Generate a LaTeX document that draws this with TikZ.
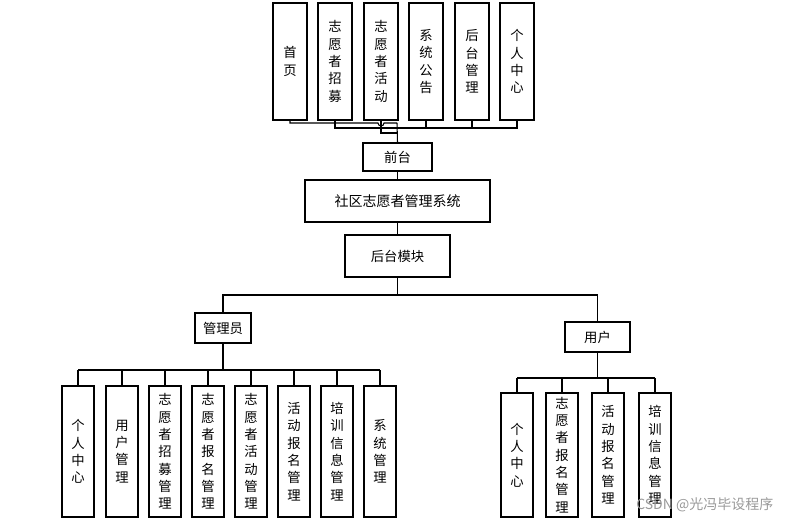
\documentclass[tikz,border=0pt]{standalone}
\usepackage{fontspec}
\setmainfont{Noto Sans CJK SC}
\begin{document}
\begin{tikzpicture}[x=0.75pt,y=-0.75pt,
  bx/.style={draw,line width=0.8pt,inner sep=0pt,align=center,font=\fontsize{10}{13}\selectfont},
  ln/.style={line width=0.8pt}]
\useasboundingbox (0,0) rectangle (791,524);
% top boxes
\foreach \n/\x/\t in {t1/290/首\\页, t2/335/志\\愿\\者\\招\\募, t3/381/志\\愿\\者\\活\\动, t4/426/系\\统\\公\\告, t5/472/后\\台\\管\\理, t6/517/个\\人\\中\\心}
  \node[bx,minimum width=34*0.75pt,minimum height=117*0.75pt] (\n) at (\x,61.5) {\t};
\node[bx,minimum width=69*0.75pt,minimum height=28*0.75pt] (qt) at (397.5,157) {前台};
\node[bx,minimum width=185*0.75pt,minimum height=42*0.75pt,font=\fontsize{10.5}{12}\selectfont] (sys) at (397.5,201) {社区志愿者管理系统};
\node[bx,minimum width=105*0.75pt,minimum height=42*0.75pt] (ht) at (397.5,256) {后台模块};
\node[bx,minimum width=56*0.75pt,minimum height=30*0.75pt] (adm) at (223,328) {管理员};
\node[bx,minimum width=65*0.75pt,minimum height=30*0.75pt] (usr) at (597.5,337) {用户};
% top connectors
\draw[ln] (t1.south) |- (378,123) arc (180:0:3) -- (397,123);
\draw[ln] (t2.south) |- (t6.south |- 0,128) -- (t6.south);
\draw[ln] (t4.south) -- (426,128);
\draw[ln] (t5.south) -- (472,128);
\draw[ln] (t3.south) |- (397,133);
\draw[ln] (397,123) -- (qt.north);
\draw[ln] (qt) -- (sys);
\draw[ln] (sys) -- (ht);
\draw[ln] (ht.south) -- (397.5,295);
\draw[ln] (adm.north) |- (usr.north |- 0,295) -- (usr.north);
% admin children
\foreach \n/\x/\t in {a1/78/个\\人\\中\\心, a2/122/用\\户\\管\\理, a3/165/志\\愿\\者\\招\\募\\管\\理, a4/208/志\\愿\\者\\报\\名\\管\\理, a5/251/志\\愿\\者\\活\\动\\管\\理, a6/294/活\\动\\报\\名\\管\\理, a7/337/培\\训\\信\\息\\管\\理, a8/380/系\\统\\管\\理}
{ \node[bx,minimum width=32*0.75pt,minimum height=131*0.75pt] (\n) at (\x,451.5) {\t};
  \draw[ln] (\n.north) -- (\x,370); }
\draw[ln] (78,370) -- (380,370);
\draw[ln] (adm.south) -- (223,370);
% user children
\foreach \n/\x/\t in {u1/517/个\\人\\中\\心, u2/562/志\\愿\\者\\报\\名\\管\\理, u3/608/活\\动\\报\\名\\管\\理, u4/655/培\\训\\信\\息\\管\\理}
{ \node[bx,minimum width=32*0.75pt,minimum height=124*0.75pt] (\n) at (\x,455) {\t};
  \draw[ln] (\n.north) -- (\x,378); }
\draw[ln] (517,378) -- (655,378);
\draw[ln] (usr.south) -- (597.5,378);
\node[text=gray!80,font=\fontsize{10.5}{12}\selectfont,anchor=east] (wm) at (778,505) {CSDN @光冯毕设程序};
\end{tikzpicture}
\end{document}
